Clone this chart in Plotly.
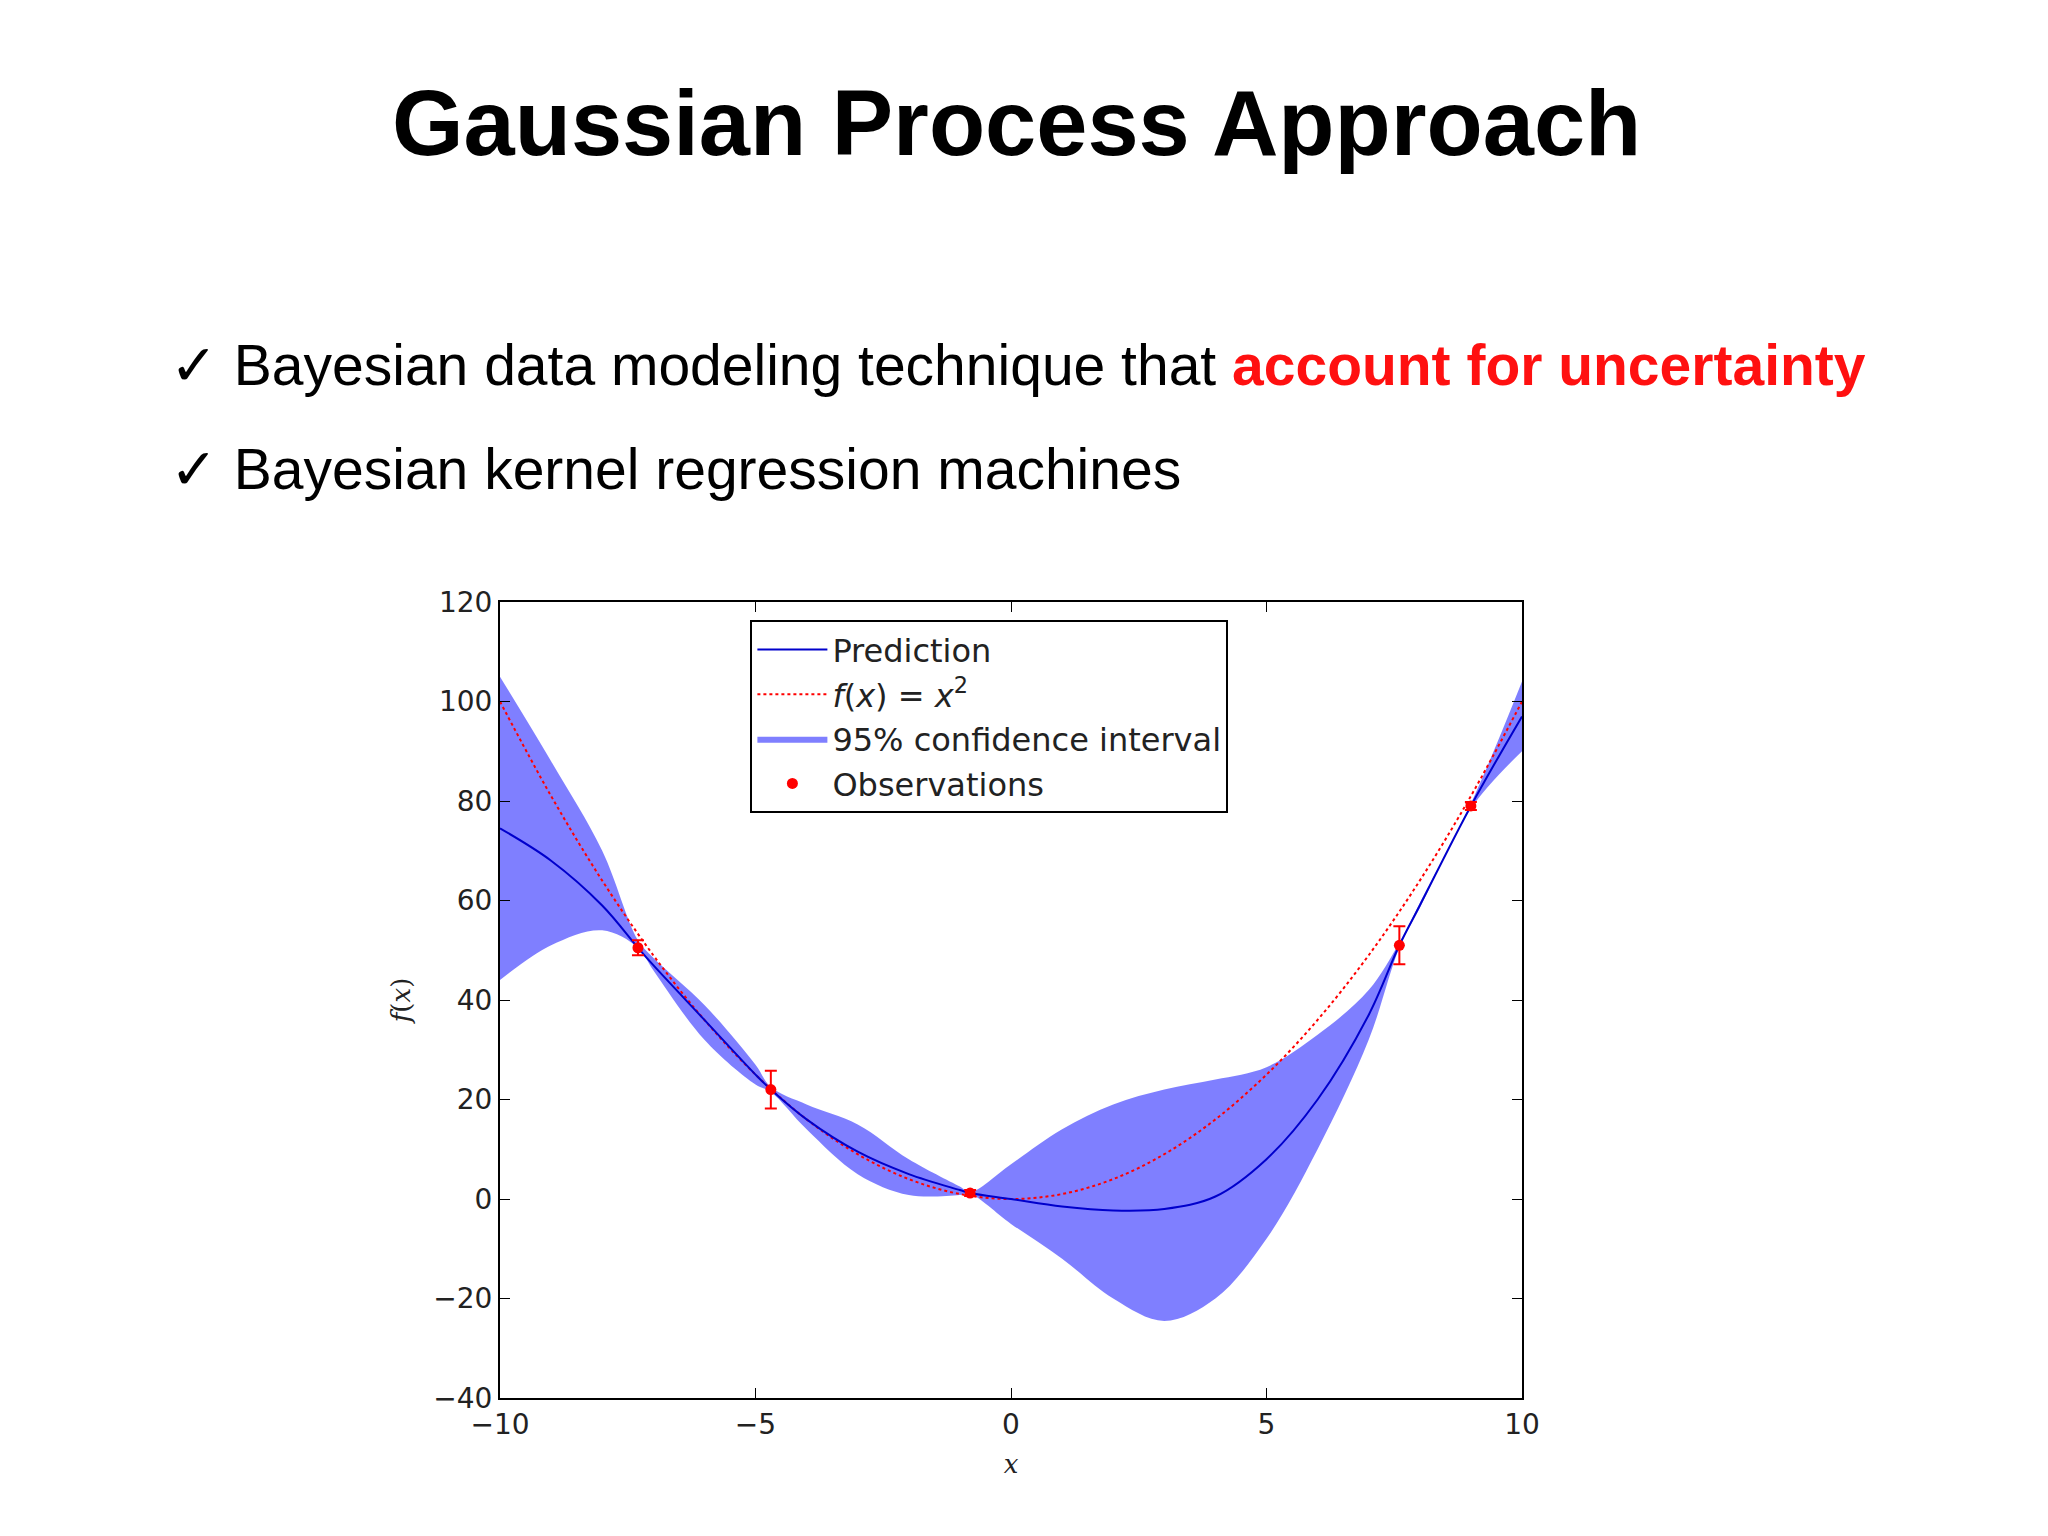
import plotly.graph_objects as go

# GP prediction
x_grid = [-10, -9, -8, -7.3, -7, -6, -5, -4.7, -4, -3, -2, -1, -0.8, 0, 1, 2, 3, 4, 5, 6, 7, 7.6, 8, 9, 10]
pred = [74.5, 68, 59, 50.5, 47, 36, 25, 22, 16, 9.5, 5, 1.8, 1.2, 0, -1.5, -2.3, -2, 0.5, 8, 20, 37, 51, 59, 79, 97]
upper = [105, 88, 70, 52, 48.5, 39, 27, 22.5, 19, 15, 8, 2.5, 1.4, 7, 14, 19, 22, 24, 26.5, 33, 42, 51.5, 59.5, 79.5, 104]
lower = [44, 51, 54, 50.5, 46, 32, 23, 21.5, 14, 5, 0.8, 0.8, 1.0, -5, -12, -20, -24.5, -20, -8, 10, 32, 50.5, 58.5, 78.5, 90]

true_x = [-10, -9, -8, -7, -6, -5, -4, -3, -2, -1, 0, 1, 2, 3, 4, 5, 6, 7, 8, 9, 10]
true_y = [100, 81, 64, 49, 36, 25, 16, 9, 4, 1, 0, 1, 4, 9, 16, 25, 36, 49, 64, 81, 100]

obs_x = [-7.3, -4.7, -0.8, 7.6, 9.0]
obs_y = [50.5, 22, 1.2, 51, 79]
obs_err = [1.5, 3.8, 0.6, 3.8, 0.8]

fig = go.Figure()
fig.add_trace(go.Scatter(x=x_grid, y=pred, mode="lines", line=dict(color="#0000cc", width=2, shape="spline"),
                         name="Prediction"))
fig.add_trace(go.Scatter(x=true_x, y=true_y, mode="lines", line=dict(color="red", width=2, dash="dot", shape="spline"),
                         name="<i>f</i>(<i>x</i>) = <i>x</i><sup>2</sup>"))
fig.add_trace(go.Scatter(x=x_grid, y=lower, mode="lines", line=dict(width=0, shape="spline"),
                         showlegend=False, hoverinfo="skip"))
fig.add_trace(go.Scatter(x=x_grid, y=upper, mode="lines", line=dict(width=0, shape="spline"),
                         fill="tonexty", fillcolor="rgba(0,0,255,0.5)",
                         name="95% confidence interval"))
fig.add_trace(go.Scatter(x=obs_x, y=obs_y, mode="markers", marker=dict(color="red", size=11),
                         error_y=dict(type="data", array=obs_err, color="red", thickness=2, width=6),
                         name="Observations"))
# redraw lines above the band
fig.data = (fig.data[2], fig.data[3], fig.data[1], fig.data[0], fig.data[4])
for t, r in zip(fig.data, [0, 3, 2, 1, 4]):
    t.legendrank = r

axis = dict(showgrid=False, zeroline=False, showline=True, linecolor="black", linewidth=2, mirror="ticks",
            ticks="inside", ticklen=10, tickcolor="black", tickfont=dict(family="DejaVu Sans", size=28, color="#222"))
fig.update_xaxes(range=[-10, 10], dtick=5, title=dict(text="<i>x</i>", font=dict(family="DejaVu Serif", size=26, color="#222")), **axis)
fig.update_yaxes(range=[-40, 120], dtick=20, title=dict(text="<i>f</i>(<i>x</i>)", font=dict(family="DejaVu Serif", size=26, color="#222")), **axis)

fig.add_annotation(text="<b>Gaussian Process Approach</b>", xref="paper", yref="paper", x=0.505, y=1.668,
                   showarrow=False, font=dict(family="Liberation Sans", size=92, color="black"))
fig.add_annotation(text="✓ Bayesian data modeling technique that <b><span style='color:#ff1010'>account for uncertainty</span></b>",
                   xref="paper", yref="paper", x=-0.325, y=1.34, xanchor="left", showarrow=False,
                   font=dict(family="Liberation Sans", size=57, color="black"))
fig.add_annotation(text="✓ Bayesian kernel regression machines",
                   xref="paper", yref="paper", x=-0.325, y=1.21, xanchor="left", showarrow=False,
                   font=dict(family="Liberation Sans", size=57, color="black"))

fig.update_layout(
    width=2048, height=1536,
    margin=dict(l=492, r=534, t=594, b=146),
    paper_bgcolor="white", plot_bgcolor="white",
    legend=dict(x=0.245, y=0.977, xanchor="left", yanchor="top", bordercolor="black", borderwidth=2,
                traceorder="normal", bgcolor="white", tracegroupgap=8,
                font=dict(family="DejaVu Sans", size=32, color="#222"), itemwidth=70),
)
fig.write_html("out.html")
